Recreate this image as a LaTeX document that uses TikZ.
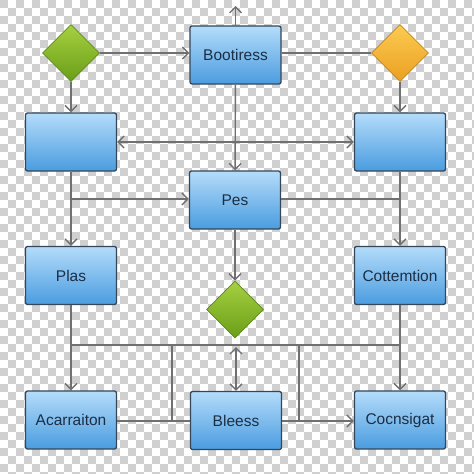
\documentclass[tikz,border=0pt]{standalone}
\usepackage{fontspec}
\setmainfont{Liberation Sans}
\usetikzlibrary{arrows.meta,shapes.geometric}
\definecolor{boxtop}{HTML}{B4DCFA}
\definecolor{boxbot}{HTML}{4A9CE0}
\definecolor{boxline}{HTML}{34475A}
\definecolor{linkgray}{HTML}{707070}
\definecolor{txt}{HTML}{1C2E44}
\definecolor{greentop}{HTML}{A6D040}
\definecolor{greenbot}{HTML}{6A9E18}
\definecolor{greenline}{HTML}{5A8A1E}
\definecolor{ortop}{HTML}{FCCB52}
\definecolor{orbot}{HTML}{EAA020}
\definecolor{orline}{HTML}{C08424}
\definecolor{checker}{HTML}{D0D0D0}
\tikzset{
  box/.style={draw=boxline,line width=1.3pt,rounded corners=2pt,top color=boxtop,bottom color=boxbot,
    minimum width=91pt,minimum height=58pt,inner sep=0pt,text=txt,font=\fontsize{15.5}{18}\selectfont},
  decision/.style={diamond,draw=greenline,line width=0.8pt,top color=greentop,bottom color=greenbot,
    minimum width=57pt,minimum height=57pt,inner sep=0pt},
  link/.style={draw=linkgray,line width=1.4pt},
  arrow/.style={link,-{Straight Barb[length=6pt,width=12pt]}},
  biarrow/.style={link,{Straight Barb[length=6pt,width=12pt]}-{Straight Barb[length=6pt,width=12pt]}}
}
\begin{document}
\begin{tikzpicture}[x=1pt,y=-1pt]
\useasboundingbox (0,0) rectangle (474,474);
\fill[white] (0,0) rectangle (474,474);
\foreach \i in {0,2,...,58}
  \foreach \j in {0,2,...,58}
    {\fill[checker] (\i*8,\j*8) rectangle ++(8,8);
     \fill[checker] (\i*8+8,\j*8+8) rectangle ++(8,8);}
\node[decision] (d1) at (71,53) {};
\node[box] (boot) at (235.5,55) {Bootiress};
\node[decision,draw=orline,top color=ortop,bottom color=orbot] (d2) at (400,53) {};
\node[box] (b1) at (71,142) {};
\node[box] (b2) at (400,142) {};
\node[box] (pes) at (235,200) {Pes};
\node[box] (plas) at (71,275.5) {Plas};
\node[box] (cott) at (400,275.5) {Cottemtion};
\node[decision] (d3) at (235,309.5) {};
\node[box] (acar) at (71,420) {Acarraiton};
\node[box] (blee) at (236,420.5) {Bleess};
\node[box] (cocn) at (400,420) {Cocnsigat};
\coordinate (top) at (235.5,6);
\coordinate (j1) at (71,199);
\coordinate (j2) at (400,199);
\coordinate (bl) at (71,345);
\coordinate (br) at (400,345);
\coordinate (bm) at (236,347);
\coordinate (l1) at (172,345);
\coordinate (l2) at (172,421);
\coordinate (r1) at (299,345);
\coordinate (r2) at (299,421);
\draw[arrow] (d1.east) -- (d1.east -| boot.west);
\draw[arrow] (boot) -- (top);
\draw[link] (d2.west -| boot.east) -- (d2.west);
\draw[arrow] (d1) -- (b1);
\draw[arrow] (d2) -- (b2);
\draw[biarrow] (b1) -- (b2);
\draw[arrow] (boot) -- (pes);
\draw[arrow] (b1) -- (plas);
\draw[arrow] (j1) -- (j1 -| pes.west);
\draw[link] (j2 -| pes.east) -- (j2);
\draw[arrow] (b2) -- (cott);
\draw[arrow] (pes) -- (d3);
\draw[arrow] (plas) -- (acar);
\draw[arrow] (cott) -- (cocn);
\draw[link] (bl) -- (br);
\draw[biarrow] (blee) -- (bm);
\draw[link] (l2 -| acar.east) -- (l2 -| blee.west) (l1) -- (l2);
\draw[arrow] (r2 -| blee.east) -- (r2 -| cocn.west);
\draw[link] (r1) -- (r2);
\end{tikzpicture}
\end{document}
